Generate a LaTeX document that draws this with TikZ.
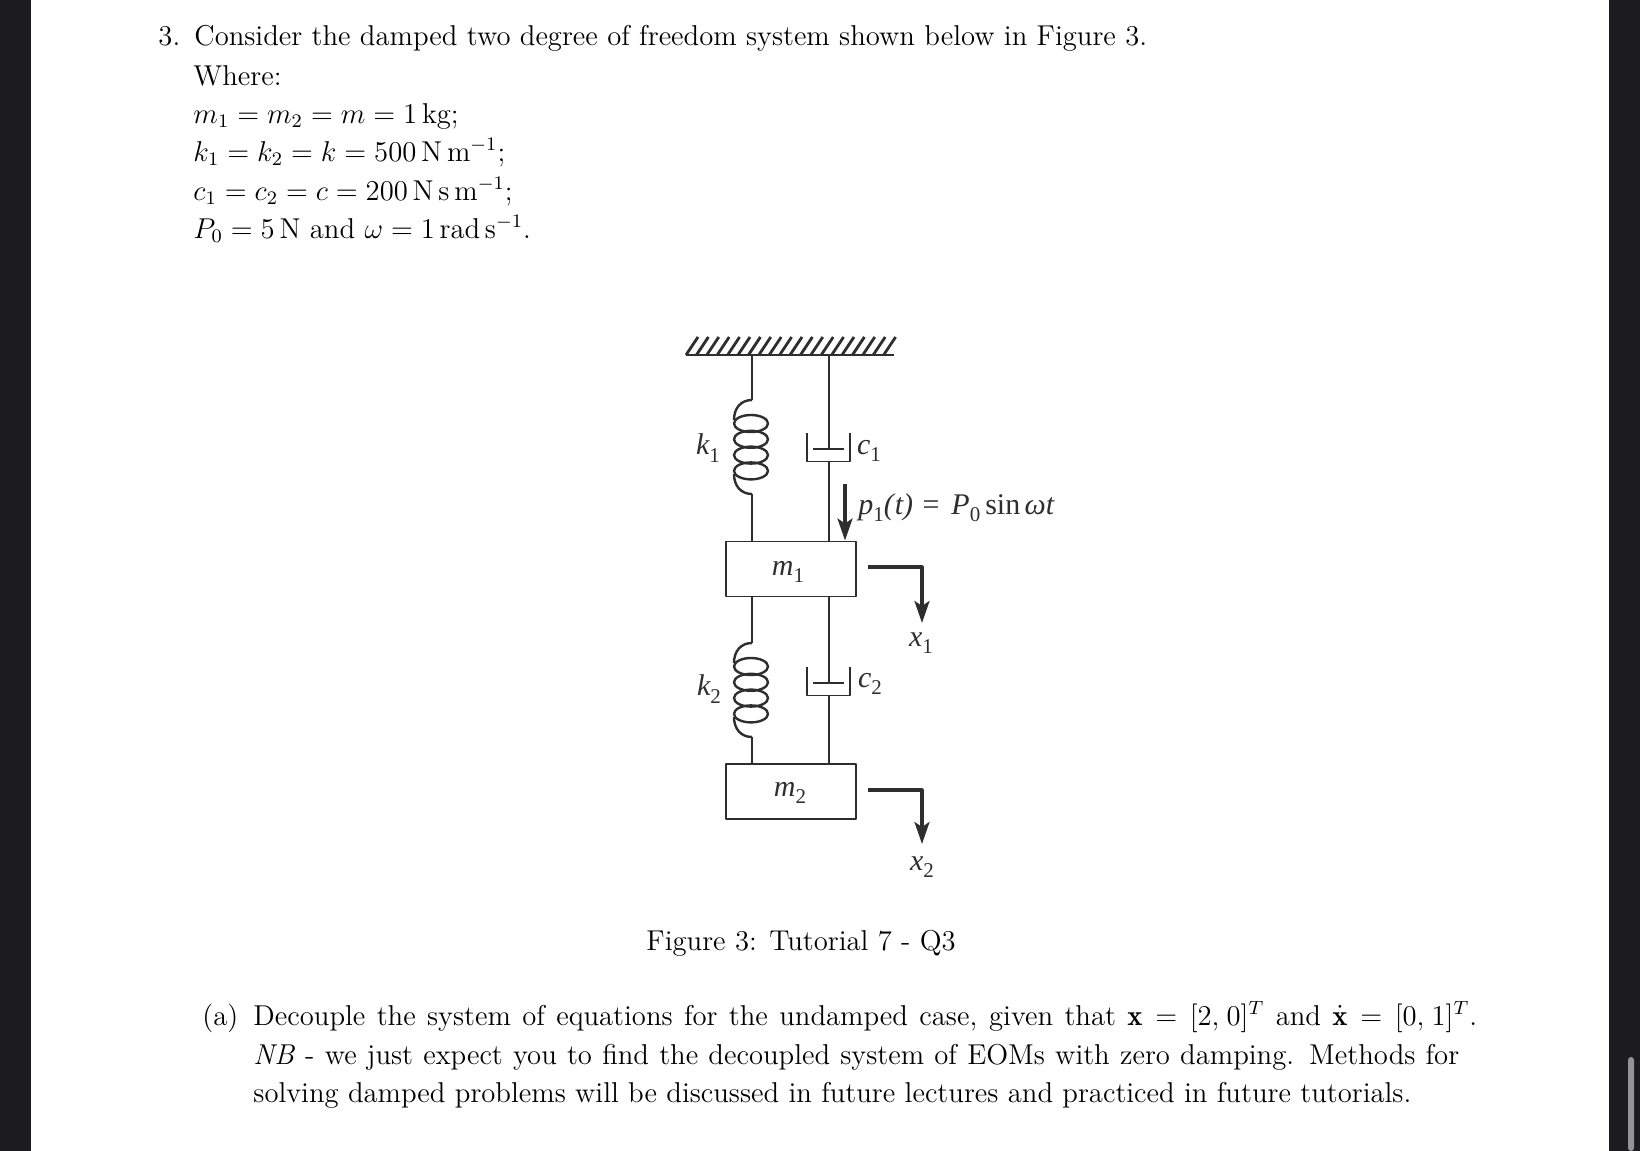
\documentclass[tikz,border=0pt]{standalone}
\usepackage{fontspec}
\usepackage{amsmath}
\usetikzlibrary{arrows.meta}
\newfontfamily\figfont{Liberation Serif}
\definecolor{barcol}{HTML}{1C1C1E}
\definecolor{figcol}{HTML}{2E2E2E}
\tikzset{
  textline/.style={anchor=base west,inner sep=0pt,scale=1.195,transform shape,font=\fontsize{12}{14.5}\selectfont},
  figlabel/.style={inner sep=0pt,text=figcol,font=\fontsize{15}{18}\figfont\itshape},
  massbox/.style={draw=figcol,line width=.8pt,minimum width=65pt,minimum height=27.5pt,inner sep=0pt,anchor=north west},
  member/.style={draw=figcol,line width=.8pt},
  coilline/.style={draw=figcol,line width=1.2pt},
  hatchline/.style={draw=figcol,line width=1.4pt},
  motion/.style={draw=figcol,line width=1.6pt,->}
}
\newcommand{\sub}[1]{\raisebox{-.55ex}{\fontsize{10.5}{12}\selectfont\upshape #1}}
\begin{document}
\begin{tikzpicture}[x=.5pt,y=-.5pt,line join=round,>={Stealth[length=11pt,width=7.5pt,inset=2.5pt]}]
\useasboundingbox (0,0) rectangle (1640,1151);
\fill[barcol] (0,0) rectangle (31,1151);
\fill[barcol] (1609,0) rectangle (1640,1151);
\fill[gray!85,rounded corners=1.5pt] (1628,1057) rectangle (1634,1151);
% question text
\node[textline] (qnum) at (158,46) {3.};
\node[textline] (qline) at (194,46) {Consider the damped two degree of freedom system shown below in Figure 3.};
\node[textline] (where) at (193,85) {Where:};
\node[textline] (massval) at (193,123) {$m_1=m_2=m=1\,\mathrm{kg}$;};
\node[textline] (stiffval) at (193,161) {$k_1=k_2=k=500\,\mathrm{N\,m^{-1}}$;};
\node[textline] (dampval) at (193,200) {$c_1=c_2=c=200\,\mathrm{N\,s\,m^{-1}}$;};
\node[textline] (loadval) at (193,238) {$P_0=5\,\mathrm{N}$ and $\omega=1\,\mathrm{rad\,s^{-1}}$.};
% figure
\coordinate (gl) at (686,355);
\coordinate (gr) at (894,355);
\coordinate (sp) at (752,355);
\coordinate (da) at (829,355);
\node[massbox] (m1) at (725,540.5) {};
\node[massbox] (m2) at (725,763) {};
\draw[member] (gl) -- (gr);
\foreach \x in {686,696.4,...,884} \draw[hatchline] (\x,355) -- (\x+12,337);
% springs, first value is where the coil starts
\foreach \y in {400,643}{
  \draw[coilline] (752,\y) .. controls (741,\y) and (734,\y+8) .. (734,\y+20);
  \draw[coilline] (734,\y+74) .. controls (734,\y+86) and (741,\y+94) .. (752,\y+94);
  \foreach \k in {0,1,2,3}
    \draw[coilline] (751,\y+23.5+15.8*\k) ellipse (17 and 8.5);
}
\draw[member] (sp) -- (752,400);
\draw[member] (752,494) -- (m1.north -| sp);
\draw[member] (m1.south -| sp) -- (752,643);
\draw[member] (752,737) -- (m2.north -| sp);
% dampers
\foreach \y in {433,667}{
  \draw[member] (807,\y) -- (807,\y+28.5) -- (850,\y+28.5) -- (850,\y);
  \draw[member] (813,\y+16) -- (844,\y+16);
}
\draw[member] (da) -- (829,449);
\draw[member] (829,461.5) -- (m1.north -| da);
\draw[member] (m1.south -| da) -- (829,683);
\draw[member] (829,695.5) -- (m2.north -| da);
% forces and displacements
\coordinate (pt) at (845,484);
\draw[motion] (pt) -- (m1.north -| pt);
\coordinate (xa) at (868,567);
\coordinate (xb) at (922,623);
\draw[motion] (xa) -| (xb);
\coordinate (xc) at (868,790);
\coordinate (xd) at (922,844);
\draw[motion] (xc) -| (xd);
\node[figlabel] (k1) at (708,448) {k\sub{1}};
\node[figlabel] (c1) at (869,451) {c\sub{1}};
\node[figlabel] (k2) at (709,689) {k\sub{2}};
\node[figlabel] (c2) at (870,684) {c\sub{2}};
\node[figlabel] (lm1) at (788,572) {m\sub{1}};
\node[figlabel] (lm2) at (790,793) {m\sub{2}};
\node[figlabel] (lx1) at (921,643) {x\sub{1}};
\node[figlabel] (lx2) at (922,867) {x\sub{2}};
\node[figlabel,anchor=base west] (load) at (858,514) {p\sub{1}({\kern.5pt}t) = \kern1.5pt P\sub{0}\,{\upshape sin}\kern2.2pt ωt};
% caption and part (a)
\node[textline] (capt) at (646,950) {Figure 3: Tutorial 7 - Q3};
\node[textline] (pa) at (202,1025) {(a)};
\node[textline] (pal) at (253,1025) {\hbox to 512pt{\thickmuskip=8mu \thinmuskip=4.5mu Decouple the system of equations for the undamped case, given that $\mathbf{x}=[2,0]^T$ and $\dot{\mathbf{x}}=[0,1]^T$.}};
\node[textline] (pbl) at (253,1064) {\hbox to 504.5pt{\textit{NB} - we just expect you to find the decoupled system of EOMs with zero damping. Methods for}};
\node[textline] (pcl) at (253,1102) {solving damped problems will be discussed in future lectures and practiced in future tutorials.};
\end{tikzpicture}
\end{document}
